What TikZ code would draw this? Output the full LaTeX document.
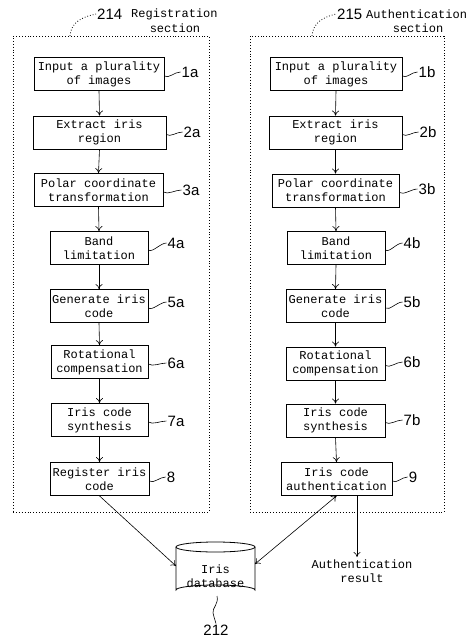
\documentclass[tikz,border=0pt]{standalone}
\usepackage{fontspec}
\setmonofont{Liberation Mono}
\newfontfamily\numfont{Liberation Sans}
\usetikzlibrary{arrows.meta,calc}
\begin{document}
\begin{tikzpicture}[x=1pt,y=-1pt,
  box/.style={draw, line width=0.8pt, minimum height=33, inner sep=1pt, align=center, font=\ttfamily\fontsize{12}{14}\selectfont},
  lab/.style={inner sep=1pt, font=\numfont\fontsize{15}{15}\selectfont},
  txt/.style={inner sep=0pt, align=center, font=\ttfamily\fontsize{12}{14}\selectfont},
  framebox/.style={draw, dotted, line width=0.9pt, inner sep=0pt},
  arr/.style={-{To[length=5pt,width=7pt]}, line width=0.6pt},
  darr/.style={{To[length=5pt,width=7pt]}-{To[length=5pt,width=7pt]}, line width=0.6pt},
  lead/.style={line width=0.6pt}]
\useasboundingbox (0,0) rectangle (474,644);
% frames
\node[framebox, minimum width=196, minimum height=476] (fL) at (111,274) {};
\node[framebox, minimum width=194, minimum height=476] (fR) at (347,274) {};
% titles
\node[lab, anchor=west] (l214) at (96,14) {214};
\node[txt, anchor=west] (tReg) at (131,14) {Registration};
\node[txt] (tRegS) at (175,28) {section};
\node[lab, anchor=west] (l215) at (336,14) {215};
\node[txt, anchor=west] (tAut) at (366,14) {Authentication};
\node[txt] (tAutS) at (418,28) {section};
\coordinate (cL) at (70,36);
\coordinate (cR) at (312,36);
\draw[dotted, line width=0.8pt] (cL) .. controls (71,22) and (82,17) .. (l214.west);
\draw[dotted, line width=0.8pt] (cR) .. controls (313,22) and (324,17) .. (l215.west);
% left column
\node[box, minimum width=130] (b1a) at (99,74) {Input a plurality\\of images};
\node[box, minimum width=133] (b2a) at (99.5,132.5) {Extract iris\\region};
\node[box, minimum width=129] (b3a) at (98.5,190) {Polar coordinate\\transformation};
\node[box, minimum width=98] (b4a) at (99,248) {Band\\limitation};
\node[box, minimum width=98] (b5a) at (99,306) {Generate iris\\code};
\node[box, minimum width=97] (b6a) at (99.5,362) {Rotational\\compensation};
\node[box, minimum width=97] (b7a) at (99.5,420) {Iris code\\synthesis};
\node[box, minimum width=99] (b8) at (99.5,479) {Register iris\\code};
% right column
\node[box, minimum width=132] (b1b) at (336,74) {Input a plurality\\of images};
\node[box, minimum width=133] (b2b) at (335.5,132.5) {Extract iris\\region};
\node[box, minimum width=127] (b3b) at (335.5,190.5) {Polar coordinate\\transformation};
\node[box, minimum width=98] (b4b) at (336,248) {Band\\limitation};
\node[box, minimum width=99] (b5b) at (335.5,306) {Generate iris\\code};
\node[box, minimum width=99] (b6b) at (335.5,363.5) {Rotational\\compensation};
\node[box, minimum width=99] (b7b) at (335.5,420.5) {Iris code\\synthesis};
\node[box, minimum width=111] (b9) at (336.5,479) {Iris code\\authentication};
% arrows in columns
\foreach \a/\b in {b1a/b2a,b2a/b3a,b3a/b4a,b4a/b5a,b5a/b6a,b6a/b7a,b7a/b8,
                   b1b/b2b,b2b/b3b,b3b/b4b,b4b/b5b,b5b/b6b,b6b/b7b,b7b/b9}
  \draw[arr] (\a.south) -- (\b.north);
% reference labels
\foreach \n/\x/\y/\t in {b1a/190/72/1a, b2a/192/132/2a, b3a/191/190/3a, b4a/176/243/4a,
                         b5a/176/302/5a, b6a/176/363/6a, b7a/176/421/7a, b8/171/477/8,
                         b1b/427/72/1b, b2b/428/132/2b, b3b/427/189/3b, b4b/412/243/4b,
                         b5b/412/302/5b, b6b/412/362/6b, b7b/412/420/7b, b9/413/477/9}{
  \node[lab] (l\t) at (\x,\y) {\t};
  \draw[lead] ($(\n.east)+(0,2)$) .. controls +(4,3) and +(-6,0) .. ($(l\t.west)+(0,0)$);
}
% database
\node[txt] (db) at (215.5,576) {Iris\\database};
\draw[line width=0.8pt] (176,547) -- (176,590) arc[start angle=180, end angle=360, x radius=39.5, y radius=5] -- (255,547);
\draw[line width=0.8pt] (215.5,547) ellipse[x radius=39.5, y radius=5];
\coordinate (dbL) at (176,566);
\coordinate (dbR) at (255,564);
\coordinate (dbB) at (217,596);
\node[lab] (l212) at (216,630) {212};
\draw[lead] (dbB) .. controls (219,604) and (212,608) .. (213,613) .. controls (214,617) .. (l212.north);
% connections to database
\draw[arr] (b8.south) -- (dbL);
\draw[darr] (b9.south) -- (dbR);
\coordinate (ares) at (357,557);
\draw[arr] (b9.south -| ares) -- (ares);
\node[txt, anchor=north] (tres) at (362,560) {Authentication\\result};
\end{tikzpicture}
\end{document}
